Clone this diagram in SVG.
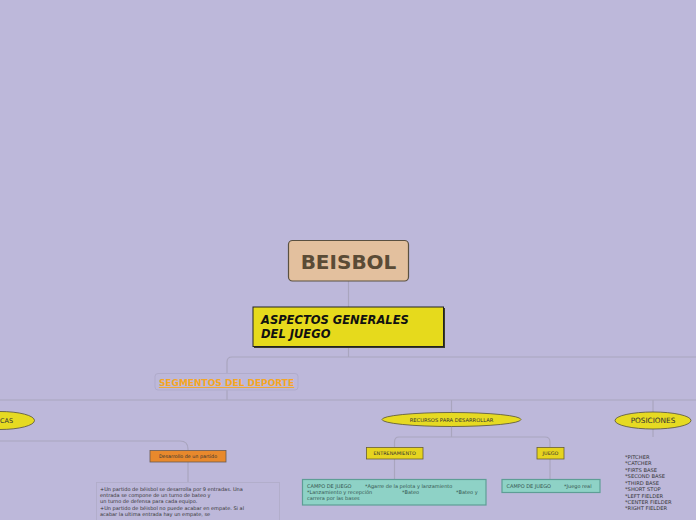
<svg xmlns="http://www.w3.org/2000/svg" width="696" height="520" viewBox="0 0 696 520">
<style>
.bg{fill:#BDB8DA}
.ln{fill:none;stroke:#A9A5BE;stroke-width:1.2}
.t{font-family:"DejaVu Sans","Liberation Sans",sans-serif;fill:#333}
.oval{fill:#E6DA22;stroke:#55523A;stroke-width:0.8}
.teal{fill:#8ED2C6;stroke:#5E9E96;stroke-width:1.2}
.ybox{fill:#E6D41F;stroke:#6A6030;stroke-width:0.8}
</style>
<rect class="bg" x="0" y="0" width="696" height="520"/>
<g id="connectors">
<path class="ln" d="M348.5 281 V307"/>
<path class="ln" d="M348.5 347 V357"/>
<path class="ln" d="M232 357 H696 M232 357 Q227 357 227 362 V373"/>
<path class="ln" d="M227 390 V400"/>
<path class="ln" d="M0 400 H696"/>
<path class="ln" d="M451.5 400 V412"/>
<path class="ln" d="M653 400 V412"/>
<path class="ln" d="M653 429 V437"/>
<path class="ln" d="M0 441 H180 Q188 441 188 449 V450"/>
<path class="ln" d="M188 462 V482"/>
<path class="ln" d="M451.5 427 V437"/>
<path class="ln" d="M399 437 H545 Q550 437 550 442 V447 M399 437 Q394.5 437 394.5 442 V447"/>
<path class="ln" d="M394.5 459 V479"/>
<path class="ln" d="M550 459 V479"/>
</g>
<g id="beisbol">
<rect x="288.5" y="240.5" width="120" height="40.5" rx="4" fill="#E3C09E" stroke="#5A5040" stroke-width="1.2"/>
<text class="t" x="348.5" y="269" text-anchor="middle" font-size="20" font-weight="bold" style="fill:#5A4B36">BEISBOL</text>
</g>
<g id="aspectos">
<rect x="254" y="308" width="191" height="40" fill="#3A3A2A"/>
<rect x="253" y="307" width="190.5" height="39.5" fill="#E6DA1C" stroke="#222" stroke-width="1"/>
<text class="t" x="261" y="324" font-size="11.5" font-weight="bold" font-style="italic" style="fill:#111">ASPECTOS GENERALES</text>
<text class="t" x="261" y="338" font-size="11.5" font-weight="bold" font-style="italic" style="fill:#111">DEL JUEGO</text>
</g>
<g id="segmentos">
<rect x="155" y="373.5" width="143" height="16.5" rx="3" fill="#BDB8DA" stroke="#B0ABCB" stroke-width="1"/>
<text class="t" x="226.5" y="386" text-anchor="middle" font-size="9" font-weight="bold" text-decoration="underline" style="fill:#F5A623">SEGMENTOS DEL DEPORTE</text>
</g>
<g id="caracteristicas">
<ellipse class="oval" cx="0" cy="420.5" rx="34.5" ry="9"/>
<text class="t" x="0" y="423" font-size="6.5">CAS</text>
</g>
<g id="desarrollo">
<rect x="150" y="450.5" width="76" height="11.5" fill="#E8892C" stroke="#6A5A50" stroke-width="0.8"/>
<text class="t" x="188" y="458.3" text-anchor="middle" font-size="4.8">Desarrollo de un partido</text>
</g>
<g id="texto-partido">
<rect x="96.5" y="482.5" width="183" height="40" fill="none" stroke="#B0ACC8" stroke-width="0.8"/>
<text class="t" font-size="5">
<tspan x="100" y="491">+Un partido de béisbol se desarrolla por 9 entradas. Una</tspan>
<tspan x="100" y="497">entrada se compone de un turno de bateo y</tspan>
<tspan x="100" y="503">un turno de defensa para cada equipo.</tspan>
<tspan x="100" y="509.5">+Un partido de béisbol no puede acabar en empate. Si al</tspan>
<tspan x="100" y="515.5">acabar la ultima entrada hay un empate, se</tspan>
</text>
</g>
<g id="recursos">
<ellipse class="oval" cx="451.5" cy="419.5" rx="69.5" ry="7"/>
<text class="t" x="451.5" y="421.5" text-anchor="middle" font-size="5.2">RECURSOS PARA DESARROLLAR</text>
</g>
<g id="entrenamiento">
<rect class="ybox" x="366.5" y="447.5" width="56.5" height="11.5"/>
<text class="t" x="394.7" y="455.2" text-anchor="middle" font-size="4.9">ENTRENAMIENTO</text>
</g>
<g id="juego">
<rect class="ybox" x="537" y="447.5" width="27" height="11.5"/>
<text class="t" x="550.5" y="455.2" text-anchor="middle" font-size="4.9">JUEGO</text>
</g>
<g id="campo-entrenamiento">
<rect class="teal" x="302.5" y="479.5" width="183.5" height="25.5"/>
<text class="t" font-size="5" style="fill:#35554F">
<tspan x="307" y="488">CAMPO DE JUEGO</tspan><tspan x="365" y="488">*Agarre de la pelota y lanzamiento</tspan>
<tspan x="307" y="494">*Lanzamiento y recepción</tspan><tspan x="402" y="494">*Bateo</tspan><tspan x="456" y="494">*Bateo y</tspan>
<tspan x="307" y="500">carrera por las bases</tspan>
</text>
</g>
<g id="campo-juego">
<rect class="teal" x="502" y="479.5" width="98" height="13"/>
<text class="t" font-size="5" style="fill:#35554F"><tspan x="506.5" y="488">CAMPO DE JUEGO</tspan><tspan x="564" y="488">*Juego real</tspan></text>
</g>
<g id="posiciones">
<ellipse class="oval" cx="653" cy="420.5" rx="38" ry="8.5"/>
<text class="t" x="653" y="423" text-anchor="middle" font-size="7.3">POSICIONES</text>
</g>
<g id="lista-posiciones">
<text class="t" font-size="5.2">
<tspan x="625" y="459">*PITCHER</tspan>
<tspan x="625" y="465">*CATCHER</tspan>
<tspan x="625" y="472">*FIRTS BASE</tspan>
<tspan x="625" y="478">*SECOND BASE</tspan>
<tspan x="625" y="485">*THIRD BASE</tspan>
<tspan x="625" y="491">*SHORT STOP</tspan>
<tspan x="625" y="498">*LEFT FIELDER</tspan>
<tspan x="625" y="504">*CENTER FIELDER</tspan>
<tspan x="625" y="510">*RIGHT FIELDER</tspan>
</text>
</g>
</svg>
